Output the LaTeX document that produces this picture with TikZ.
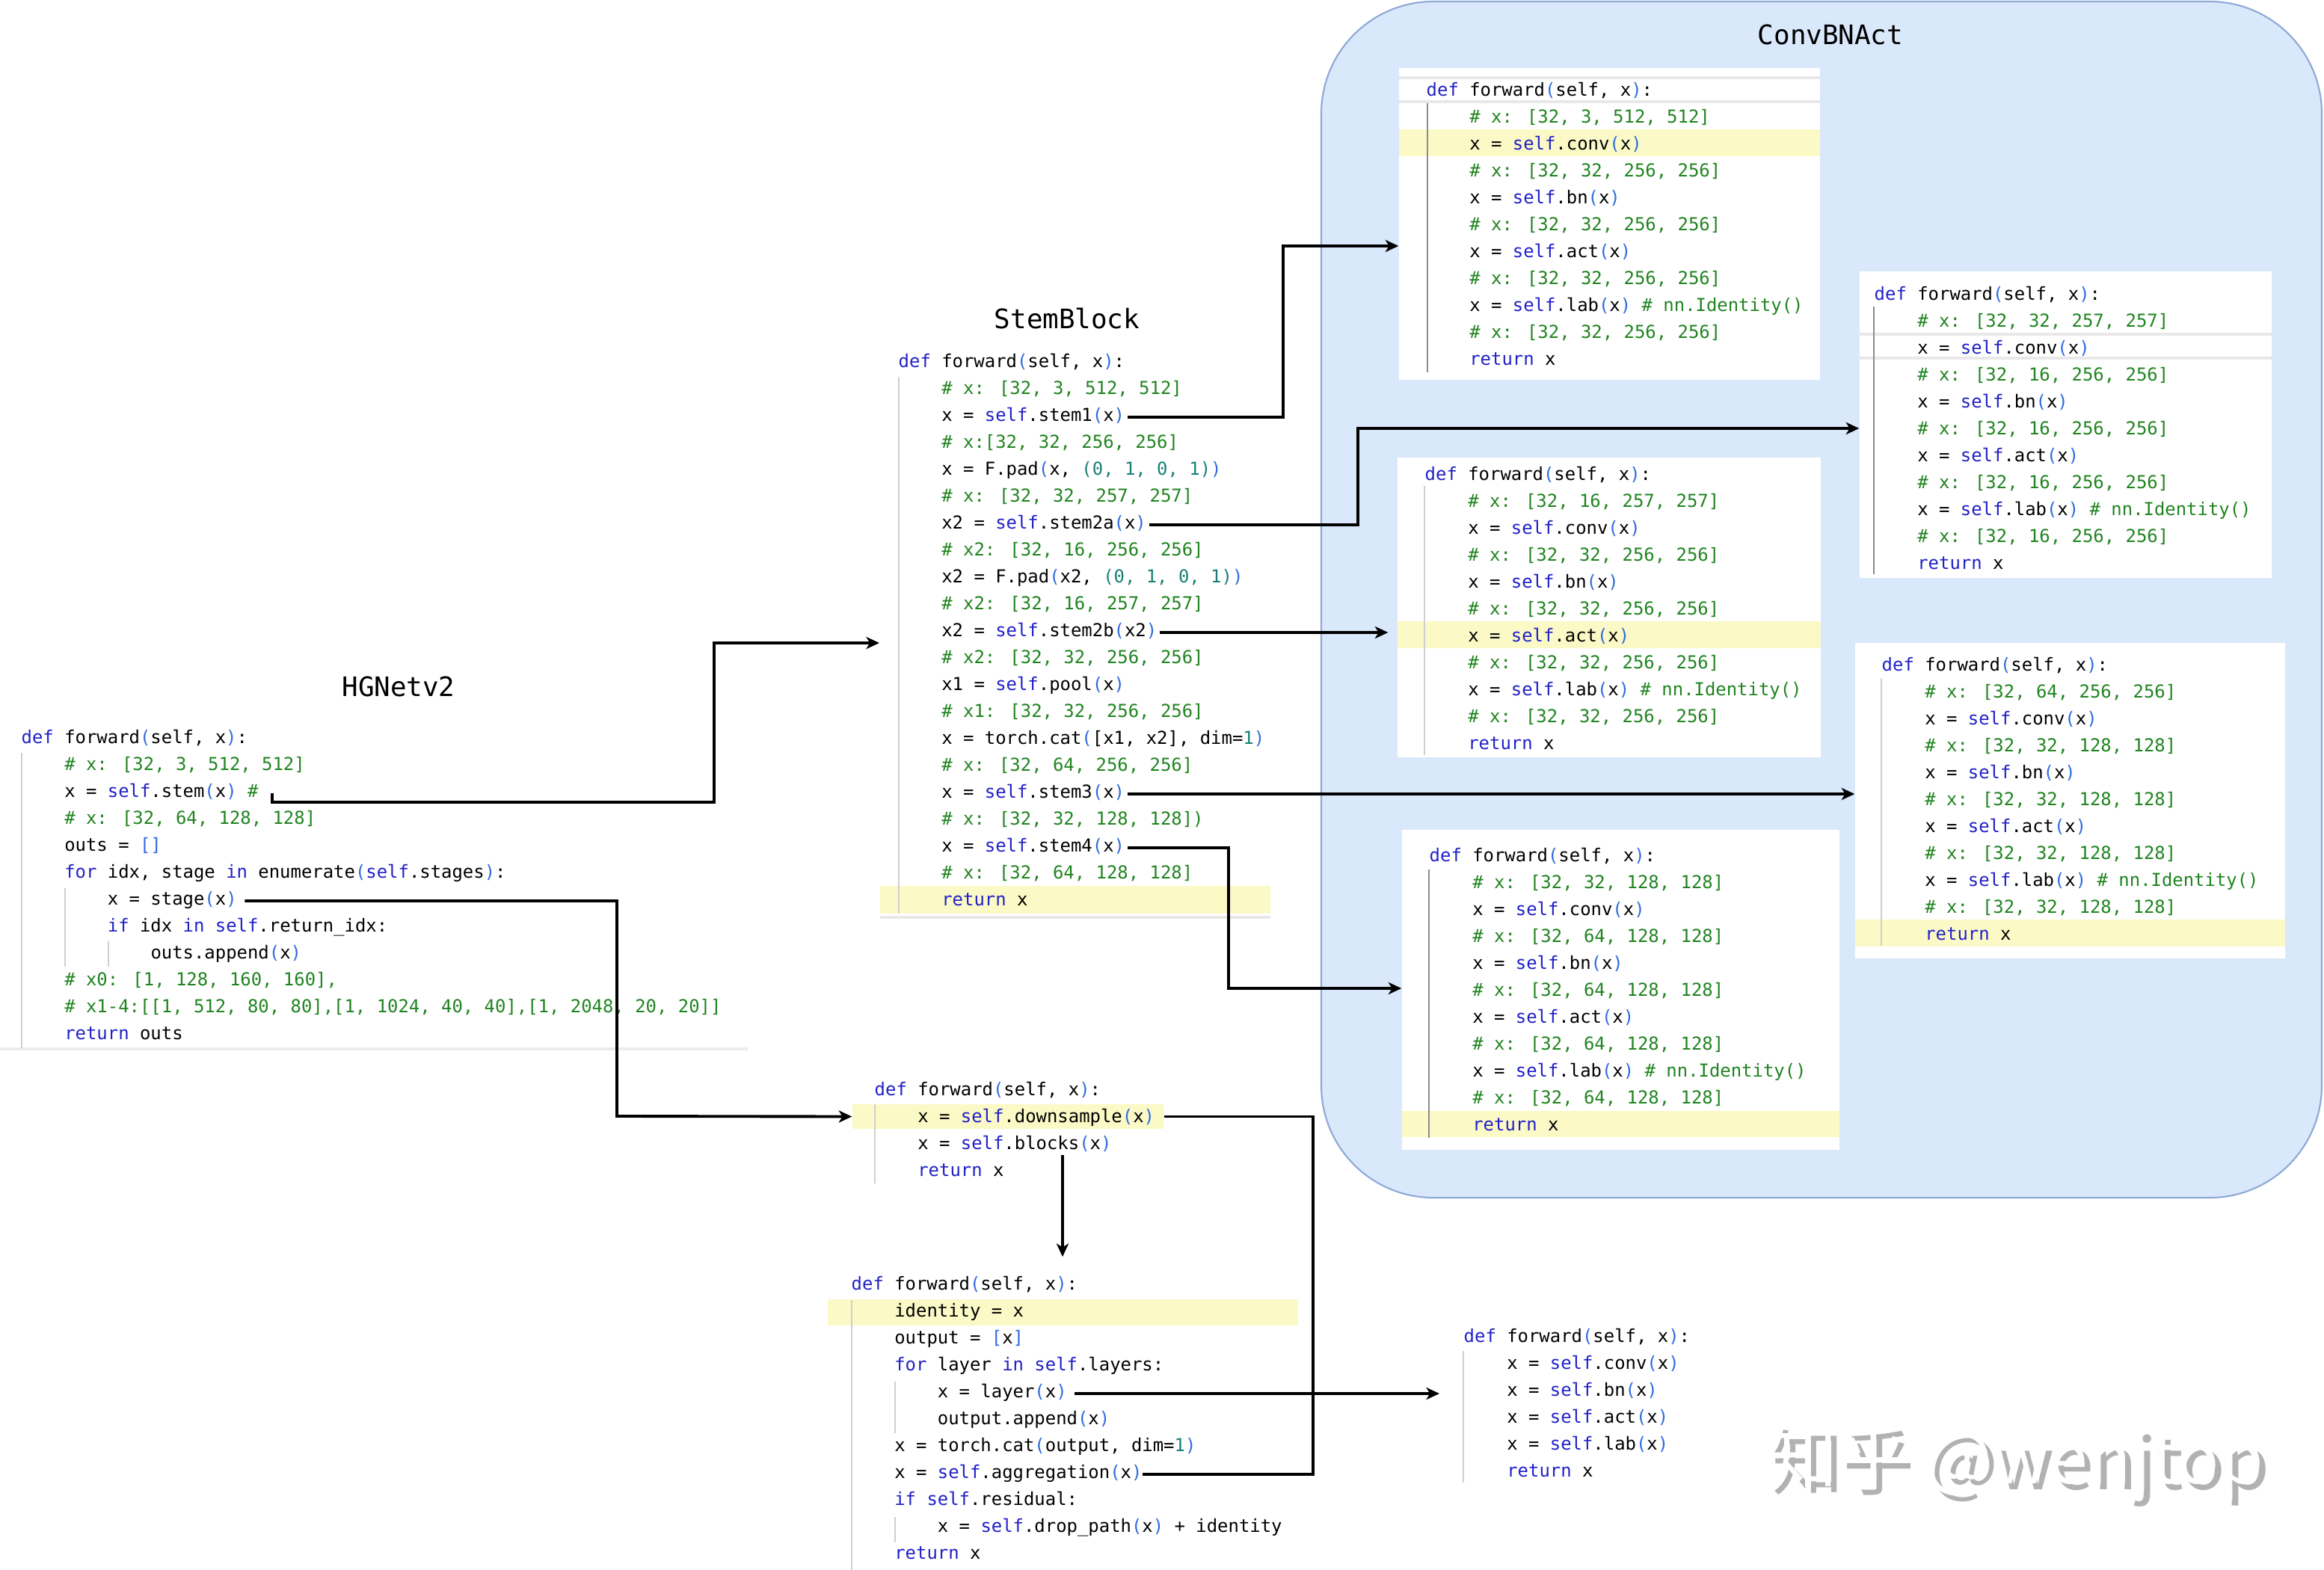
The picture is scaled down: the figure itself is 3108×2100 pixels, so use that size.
\documentclass[tikz,border=0pt]{standalone}
\usepackage{fontspec}
\usetikzlibrary{arrows.meta,fit}
\newfontfamily\codefont{DejaVu Sans Mono}
\newfontfamily\cjkfont{Noto Sans CJK SC}
\definecolor{kw}{RGB}{33,33,200}
\definecolor{par}{RGB}{48,108,222}
\definecolor{cmt}{RGB}{32,132,32}
\definecolor{nmb}{RGB}{24,128,118}
\definecolor{hlc}{HTML}{FBF9C6}
\definecolor{cbfill}{HTML}{DAE8FC}
\definecolor{cbdraw}{HTML}{8EA9D6}
\definecolor{guidel}{HTML}{CFCFCF}
\definecolor{guidedk}{HTML}{8C8C8C}
\newcommand\cKw[1]{\textcolor{kw}{#1}}
\newcommand\cCm[1]{\textcolor{cmt}{#1}}
\newcommand\cNm[1]{\textcolor{nmb}{#1}}
\newcommand\cLP{\textcolor{par}{(}}
\newcommand\cRP{\textcolor{par}{)}}
\newcommand\cSelf{\textcolor{kw}{self}}
\newcommand\cDef{\cKw{def} forward\cLP self, x\cRP:}
\newcommand\cbx{0}
\newcommand\cby{0}
\newcommand\CLn[4]{\node[code] (#1) at ({\cbx+57.6*#2},{\cby+4+36*#3}) {#4};}
\newcommand\CBNA[3]{%
  \CLn{#10}{0}{0}{\cDef}
  \CLn{#11}{1}{1}{\cCm{\# x: [#2]}}
  \CLn{#12}{1}{2}{x = \cSelf.conv\cLP x\cRP}
  \CLn{#13}{1}{3}{\cCm{\# x: [#3]}}
  \CLn{#14}{1}{4}{x = \cSelf.bn\cLP x\cRP}
  \CLn{#15}{1}{5}{\cCm{\# x: [#3]}}
  \CLn{#16}{1}{6}{x = \cSelf.act\cLP x\cRP}
  \CLn{#17}{1}{7}{\cCm{\# x: [#3]}}
  \CLn{#18}{1}{8}{x = \cSelf.lab\cLP x\cRP{} \cCm{\# nn.Identity()}}
  \CLn{#19}{1}{9}{\cCm{\# x: [#3]}}
  \CLn{#110}{1}{10}{\cKw{return} x}}
\tikzset{
  code/.style={font=\codefont\fontsize{6.8pt}{8pt}\selectfont, anchor=west, inner xsep=0pt, inner ysep=0pt, text height=5.1pt, text depth=1.7pt},
  title/.style={font=\codefont\fontsize{10.2pt}{12pt}\selectfont, inner sep=0pt},
  arr/.style={line width=1.1pt, -{Stealth[length=5pt,width=4.6pt,inset=1.4pt]}},
  link/.style={line width=1.1pt},
  guide/.style={line width=0.6pt, draw=guidel},
  guidedark/.style={line width=0.6pt, draw=guidedk},
  hl/.style={fill=hlc, inner sep=0pt, draw=none},
  cbox/.style={fill=white, inner sep=0pt, draw=none},
  sepline/.style={line width=0.9pt, draw=black!9},
  wmark/.style={font=\cjkfont\fontsize{27pt}{30pt}\selectfont, inner sep=0pt},
}
\begin{document}
\begin{tikzpicture}[x=0.01cm, y=-0.01cm]
\useasboundingbox (0,0) rectangle (3108,2100);
\fill[white] (0,0) rectangle (3108,2100);

% ConvBNAct container
\draw[fill=cbfill, draw=cbdraw, line width=0.6pt, rounded corners=1.5cm] (1767,2) rectangle (3105,1602);

% titles
\node[title] (tcb) at (2448,46) {ConvBNAct};
\node[title] (tsb) at (1427,426) {StemBlock};
\node[title] (thg) at (533,918) {HGNetv2};

% white code boxes
\node[cbox, fit={(1871,91) (2434,508)}] (boxA) {};
\node[cbox, fit={(2487,363) (3038,773)}] (boxD) {};
\node[cbox, fit={(1869,612) (2435,1013)}] (boxB) {};
\node[cbox, fit={(2481,860) (3056,1282)}] (boxE) {};
\node[cbox, fit={(1875,1110) (2460,1538)}] (boxC) {};

% separators
\draw[sepline] (1871,104) -- (2434,104);
\draw[sepline] (1871,136) -- (2434,136);
\draw[sepline] (2487,447) -- (3038,447);
\draw[sepline] (2487,479) -- (3038,479);
\draw[sepline] (1177,1227) -- (1699,1227);
\draw[line width=1.2pt, draw=black!8] (0,1403) -- (1000,1403);

% highlights
\node[hl, fit={(1871,173) (2434,209)}] (hlA) {};
\node[hl, fit={(1869,831) (2435,867)}] (hlB) {};
\node[hl, fit={(2481,1230) (3056,1266)}] (hlE) {};
\node[hl, fit={(1875,1486) (2460,1521)}] (hlC) {};
\node[hl, fit={(1177,1185) (1699,1222)}] (hlS) {};
\node[hl, fit={(1140,1477) (1556,1510)}] (dshl) {};
\node[hl, fit={(1107,1738) (1736,1773)}] (ghl) {};

% indent guides
\draw[guide] (29,1007) -- (29,1402);
\draw[guide] (87,1188) -- (87,1293);
\draw[guide] (145,1259) -- (145,1293);
\draw[guide] (1202,504) -- (1202,1222);
\draw[guidedark] (1909,138) -- (1909,498);
\draw[guidedark] (2506,410) -- (2506,768);
\draw[guide] (1905,650) -- (1905,1010);
\draw[guide] (2516,907) -- (2516,1265);
\draw[guidedark] (1911,1163) -- (1911,1522);
\draw[guide] (1170,1477) -- (1170,1583);
\draw[guide] (1139,1739) -- (1139,2100);
\draw[guide] (1197,1848) -- (1197,1917);
\draw[guide] (1197,2029) -- (1197,2063);
\draw[guide] (1957,1807) -- (1957,1983);

% HGNetv2
\renewcommand\cbx{28}\renewcommand\cby{985}
\CLn{h0}{0}{0}{\cDef}
\CLn{h1}{1}{1}{\cCm{\# x: [32, 3, 512, 512]}}
\CLn{h2}{1}{2}{x = \cSelf.stem\cLP x\cRP{} \cCm{\#}}
\CLn{h3}{1}{3}{\cCm{\# x: [32, 64, 128, 128]}}
\CLn{h4}{1}{4}{outs = \textcolor{par}{[]}}
\CLn{h5}{1}{5}{\cKw{for} idx, stage \cKw{in} enumerate\cLP\cSelf.stages\cRP:}
\CLn{h6}{2}{6}{x = stage\cLP x\cRP}
\CLn{h7}{2}{7}{\cKw{if} idx \cKw{in} \cSelf.return\_idx:}
\CLn{h8}{3}{8}{outs.append\cLP x\cRP}
\CLn{h9}{1}{9}{\cCm{\# x0: [1, 128, 160, 160],}}
\CLn{h10}{1}{10}{\cCm{\# x1-4:[[1, 512, 80, 80],[1, 1024, 40, 40],[1, 2048, 20, 20]]}}
\CLn{h11}{1}{11}{\cKw{return} outs}

% StemBlock
\renewcommand\cbx{1201}\renewcommand\cby{482}
\CLn{s0}{0}{0}{\cDef}
\CLn{s1}{1}{1}{\cCm{\# x: [32, 3, 512, 512]}}
\CLn{s2}{1}{2}{x = \cSelf.stem1\cLP x\cRP}
\CLn{s3}{1}{3}{\cCm{\# x:[32, 32, 256, 256]}}
\CLn{s4}{1}{4}{x = F.pad\cLP x, \cNm{(0, 1, 0, 1)}\cRP}
\CLn{s5}{1}{5}{\cCm{\# x: [32, 32, 257, 257]}}
\CLn{s6}{1}{6}{x2 = \cSelf.stem2a\cLP x\cRP}
\CLn{s7}{1}{7}{\cCm{\# x2: [32, 16, 256, 256]}}
\CLn{s8}{1}{8}{x2 = F.pad\cLP x2, \cNm{(0, 1, 0, 1)}\cRP}
\CLn{s9}{1}{9}{\cCm{\# x2: [32, 16, 257, 257]}}
\CLn{s10}{1}{10}{x2 = \cSelf.stem2b\cLP x2\cRP}
\CLn{s11}{1}{11}{\cCm{\# x2: [32, 32, 256, 256]}}
\CLn{s12}{1}{12}{x1 = \cSelf.pool\cLP x\cRP}
\CLn{s13}{1}{13}{\cCm{\# x1: [32, 32, 256, 256]}}
\CLn{s14}{1}{14}{x = torch.cat\cLP [x1, x2], dim=\cNm{1}\cRP}
\CLn{s15}{1}{15}{\cCm{\# x: [32, 64, 256, 256]}}
\CLn{s16}{1}{16}{x = \cSelf.stem3\cLP x\cRP}
\CLn{s17}{1}{17}{\cCm{\# x: [32, 32, 128, 128])}}
\CLn{s18}{1}{18}{x = \cSelf.stem4\cLP x\cRP}
\CLn{s19}{1}{19}{\cCm{\# x: [32, 64, 128, 128]}}
\CLn{s20}{1}{20}{\cKw{return} x}

% ConvBNAct boxes
\renewcommand\cbx{1907}\renewcommand\cby{119}
\CBNA{a}{32, 3, 512, 512}{32, 32, 256, 256}
\renewcommand\cbx{2506}\renewcommand\cby{392}
\CBNA{d}{32, 32, 257, 257}{32, 16, 256, 256}
\renewcommand\cbx{1905}\renewcommand\cby{633}
\CBNA{b}{32, 16, 257, 257}{32, 32, 256, 256}
\renewcommand\cbx{2516}\renewcommand\cby{888}
\CBNA{e}{32, 64, 256, 256}{32, 32, 128, 128}
\renewcommand\cbx{1911}\renewcommand\cby{1143}
\CBNA{c}{32, 32, 128, 128}{32, 64, 128, 128}

% stage forward
\renewcommand\cbx{1169}\renewcommand\cby{1456}
\CLn{d0x}{0}{0}{\cDef}
\CLn{dd1}{1}{1}{x = \cSelf.downsample\cLP x\cRP}
\CLn{dd2}{1}{2}{x = \cSelf.blocks\cLP x\cRP}
\CLn{dd3}{1}{3}{\cKw{return} x}

% block forward
\renewcommand\cbx{1138}\renewcommand\cby{1716}
\CLn{g0}{0}{0}{\cDef}
\CLn{g1}{1}{1}{identity = x}
\CLn{g2}{1}{2}{output = \textcolor{par}{[}x\textcolor{par}{]}}
\CLn{g3}{1}{3}{\cKw{for} layer \cKw{in} \cSelf.layers:}
\CLn{g4}{2}{4}{x = layer\cLP x\cRP}
\CLn{g5}{2}{5}{output.append\cLP x\cRP}
\CLn{g6}{1}{6}{x = torch.cat\cLP output, dim=\cNm{1}\cRP}
\CLn{g7}{1}{7}{x = \cSelf.aggregation\cLP x\cRP}
\CLn{g8}{1}{8}{\cKw{if} \cSelf.residual:}
\CLn{g9}{2}{9}{x = \cSelf.drop\_path\cLP x\cRP{} + identity}
\CLn{g10}{1}{10}{\cKw{return} x}

% layer forward
\renewcommand\cbx{1957}\renewcommand\cby{1786}
\CLn{r0}{0}{0}{\cDef}
\CLn{r1}{1}{1}{x = \cSelf.conv\cLP x\cRP}
\CLn{r2}{1}{2}{x = \cSelf.bn\cLP x\cRP}
\CLn{r3}{1}{3}{x = \cSelf.act\cLP x\cRP}
\CLn{r4}{1}{4}{x = \cSelf.lab\cLP x\cRP}
\CLn{r5}{1}{5}{\cKw{return} x}

% connectors
\coordinate (sbin) at (1176,860);
\coordinate (k1) at (955,860);
\draw[arr] (h2.east) ++(18,0) -- ++(0,12) -| (k1) -- (sbin);
\coordinate (k2) at (825,1493);
\draw[arr] (h6.east) ++(10,0) -| (k2) -- (dshl.west);
\coordinate (k3) at (1716,329);
\draw[arr] (s2.east) ++(3,0) -| (k3) -- (k3 -| boxA.west);
\coordinate (k4) at (1816,573);
\draw[arr] (s6.east) ++(3,0) -| (k4) -- (k4 -| boxD.west);
\draw[arr, shorten >=3.4pt] (s10.east) ++(3,0) -- (s10.east -| boxB.west);
\draw[arr] (s16.east) ++(3,0) -- (s16.east -| boxE.west);
\coordinate (k5) at (1643,1322);
\draw[arr] (s18.east) ++(3,0) -| (k5) -- (k5 -| boxC.west);
\coordinate (k6) at (1756,1493);
\draw[link] (dshl.east) -| (k6 |- g7.east) -- (g7.east);
\coordinate (k7) at (1925,1860);
\draw[arr] (g4.east) ++(10,0) -- (k7 |- g4.east);
\coordinate (k8) at (1421,1681);
\draw[arr] (k8 |- dd2.south) -- (k8);

% watermark
\node[wmark, text=black!30] (wms) at (2703,1964) {知乎 @wenjtop};
\node[wmark, text=white] (wm) at (2695,1956) {知乎 @wenjtop};
\end{tikzpicture}
\end{document}
